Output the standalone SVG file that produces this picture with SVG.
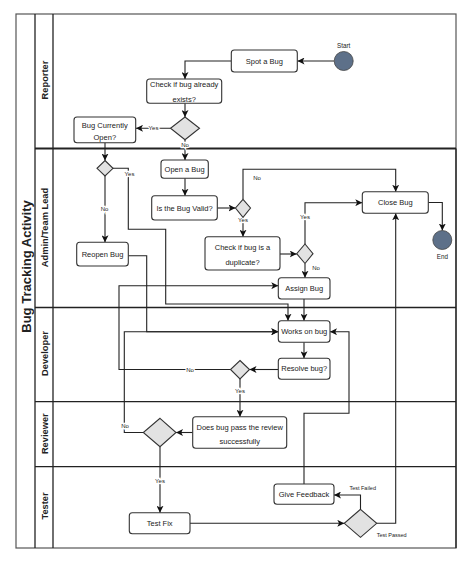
<svg xmlns="http://www.w3.org/2000/svg" width="474" height="567" viewBox="0 0 474 567">
<style>
text{font-family:"Liberation Sans",Arial,sans-serif;fill:#222;}
.n{font-size:7.5px;text-anchor:middle;}
.l{font-size:6px;text-anchor:middle;paint-order:stroke;stroke:#fff;stroke-width:2.5px;}
.s{font-size:5.5px;text-anchor:middle;}
.lane{font-size:9.3px;font-weight:bold;text-anchor:middle;}
.box{fill:#fff;stroke:#333;stroke-width:1.1;}
.dia{fill:#e2e2e2;stroke:#333;stroke-width:1.1;}
.circ{fill:#5d7089;stroke:#444;stroke-width:0.8;}
.c{fill:none;stroke:#222;stroke-width:1.1;}
.a{marker-end:url(#arr);}
.frame{fill:none;stroke:#555;stroke-width:1.2;}
.div{stroke:#222;stroke-width:1.3;}
</style>
<defs>
<marker id="arr" viewBox="0 0 8 8" refX="8" refY="4" markerWidth="7" markerHeight="7" markerUnits="userSpaceOnUse" orient="auto">
<path d="M0,0 L8,4 L0,8 L2,4 z" fill="#111"/>
</marker>
</defs>
<rect width="474" height="567" fill="#fff"/>
<g id="pool">
<rect class="frame" x="16" y="14" width="440" height="534"/>
<line class="div" x1="35" y1="14" x2="35" y2="548"/>
<line class="div" x1="53" y1="14" x2="53" y2="548"/>
<line class="div" x1="35" y1="148.5" x2="456" y2="148.5" style="stroke-width:2"/>
<line class="div" x1="35" y1="307.5" x2="456" y2="307.5"/>
<line class="div" x1="35" y1="401.7" x2="456" y2="401.7"/>
<line class="div" x1="35" y1="466.7" x2="456" y2="466.7"/>
<line class="div" x1="456" y1="148.5" x2="456" y2="548"/>
<text transform="translate(30.5,266.5) rotate(-90)" style="font-size:13px;font-weight:bold;text-anchor:middle">Bug Tracking Activity</text>
<text class="lane" transform="translate(47.5,80) rotate(-90)">Reporter</text>
<text class="lane" transform="translate(47.5,227.5) rotate(-90)">Admin/Team Lead</text>
<text class="lane" transform="translate(47.5,353.5) rotate(-90)">Developer</text>
<text class="lane" transform="translate(47.5,433.7) rotate(-90)">Reviewer</text>
<text class="lane" transform="translate(47.5,506) rotate(-90)">Tester</text>
</g>
<g id="connectors">
<path class="c a" d="M334,61 H297.5"/>
<path class="c a" d="M231,61 H185 V79"/>
<path class="c a" d="M185,103.3 V117"/>
<path class="c a" d="M170.5,128.3 H136"/>
<path class="c a" d="M185,139.7 V160"/>
<path class="c a" d="M105,142.7 V160.5"/>
<path class="c a" d="M113,168.3 H128.3 V229.3 H165.7 V304 H288 V320.7"/>
<path class="c a" d="M105,176 V242.3"/>
<path class="c a" d="M128.3,255.7 H146.7 V331.7 H278.3"/>
<path class="c a" d="M185,178.3 V195.7"/>
<path class="c a" d="M217.3,208 H235.5"/>
<path class="c a" d="M243,199.3 V169.3 H395.7 V191.7"/>
<path class="c a" d="M243,217.3 V236.7"/>
<path class="c a" d="M280,254 H296.7"/>
<path class="c a" d="M305,244 V202.7 H362.3"/>
<path class="c a" d="M305,263.5 V277.7"/>
<path class="c a" d="M304,299 V320.7"/>
<path class="c a" d="M230,369.5 H119 V285.7 H278.3"/>
<path class="c a" d="M304,342.3 V358.3"/>
<path class="c a" d="M278.3,369.5 H249.5"/>
<path class="c a" d="M240,379 V416.7"/>
<path class="c a" d="M192.7,432.5 H176"/>
<path class="c a" d="M143.3,432.5 H124.3 V331.7 H278.3"/>
<path class="c a" d="M160,446.7 V512.7"/>
<path class="c a" d="M190,523.3 H344.3"/>
<path class="c a" d="M360.5,509.3 V495 H334"/>
<path class="c a" d="M376.7,523.3 H395.7 V213.3"/>
<path class="c a" d="M304,484 V413.3 H349 V331.7 H330"/>
<path class="c a" d="M428.3,202.5 H442.3 V230.5"/>
<text class="l" x="153.5" y="130.3">Yes</text>
<text class="l" x="185" y="146.6">No</text>
<text class="l" x="129.5" y="176.1">Yes</text>
<text class="l" x="104.5" y="210.6">No</text>
<text class="l" x="257" y="179.8">No</text>
<text class="l" x="243" y="222.1">Yes</text>
<text class="l" x="305" y="218.8">Yes</text>
<text class="l" x="316" y="270.1">No</text>
<text class="l" x="190" y="372.1">No</text>
<text class="l" x="240" y="392.8">Yes</text>
<text class="l" x="125" y="427.8">No</text>
<text class="l" x="160" y="482.8">Yes</text>
<text class="s" x="362.7" y="490.2">Test Failed</text>
<text class="s" x="391.7" y="537">Test Passed</text>
</g>
<g id="start">
<circle class="circ" cx="343.7" cy="61" r="9.5"/>
<text class="s" x="343.7" y="48.3" style="font-size:6.3px">Start</text>
</g>
<g id="spot-bug">
<rect class="box" x="231.3" y="50" width="66" height="22" rx="3"/>
<text class="n" x="264.3" y="63.6">Spot a Bug</text>
</g>
<g id="check-exists">
<rect class="box" x="146.7" y="79" width="75" height="24.3" rx="3"/>
<text class="n" x="184.2" y="87">Check if bug already</text>
<text class="n" x="184.2" y="101.6">exists?</text>
</g>
<g id="d-exists">
<polygon class="dia" points="185,117 199.5,128.3 185,139.7 170.5,128.3"/>
</g>
<g id="bug-open">
<rect class="box" x="74" y="117" width="61.7" height="25.7" rx="3"/>
<text class="n" x="104.8" y="127.6">Bug Currently</text>
<text class="n" x="104.8" y="140.3">Open?</text>
</g>
<g id="d-open">
<polygon class="dia" points="105,160.5 113,168.3 105,176 97,168.3"/>
</g>
<g id="reopen">
<rect class="box" x="76.7" y="242.3" width="51.6" height="23.7" rx="3"/>
<text class="n" x="102.5" y="256.8">Reopen Bug</text>
</g>
<g id="open-bug">
<rect class="box" x="161" y="160" width="47.3" height="18.3" rx="3"/>
<text class="n" x="184.6" y="171.8">Open a Bug</text>
</g>
<g id="is-valid">
<rect class="box" x="151.7" y="195.7" width="65.6" height="24.3" rx="3"/>
<text class="n" x="184.5" y="210.5">Is the Bug Valid?</text>
</g>
<g id="d-valid">
<polygon class="dia" points="243,199.3 250.5,208 243,217.3 235.5,208"/>
</g>
<g id="check-dup">
<rect class="box" x="205" y="236.7" width="75" height="33.3" rx="3"/>
<text class="n" x="242.5" y="250.3">Check if bug is a</text>
<text class="n" x="242.5" y="264.9">duplicate?</text>
</g>
<g id="d-dup">
<polygon class="dia" points="305,244 313,253.7 305,263.5 296.7,253.7"/>
</g>
<g id="assign">
<rect class="box" x="278.3" y="277.7" width="51.7" height="21.3" rx="3"/>
<text class="n" x="304.2" y="291">Assign Bug</text>
</g>
<g id="close-bug">
<rect class="box" x="362.3" y="191.7" width="66" height="21.6" rx="3"/>
<text class="n" x="395.3" y="205.1">Close Bug</text>
</g>
<g id="end">
<circle class="circ" cx="442.3" cy="240" r="9.5"/>
<text class="s" x="442.3" y="258.8" style="font-size:6.3px">End</text>
</g>
<g id="works">
<rect class="box" x="278.3" y="320.7" width="51.7" height="21.6" rx="3"/>
<text class="n" x="304.2" y="334.1">Works on bug</text>
</g>
<g id="resolve">
<rect class="box" x="278.3" y="358.3" width="51.7" height="21" rx="3"/>
<text class="n" x="304.2" y="371.4">Resolve bug?</text>
</g>
<g id="d-resolve">
<polygon class="dia" points="240,360.5 249.5,369.5 240,379 230.5,369.5"/>
</g>
<g id="review">
<rect class="box" x="192.7" y="416.7" width="94" height="31.6" rx="3"/>
<text class="n" x="239.7" y="429.9">Does bug pass the review</text>
<text class="n" x="239.7" y="443.6">successfully</text>
</g>
<g id="d-review">
<polygon class="dia" points="160,418.3 176,432.5 160,446.7 143.3,432.5"/>
</g>
<g id="test-fix">
<rect class="box" x="129.3" y="512.7" width="60.7" height="21" rx="3"/>
<text class="n" x="159.7" y="525.8">Test Fix</text>
</g>
<g id="feedback">
<rect class="box" x="274" y="484" width="60" height="20.3" rx="3"/>
<text class="n" x="304" y="496.8">Give Feedback</text>
</g>
<g id="d-test">
<polygon class="dia" points="360.5,509.3 376.7,523.3 360.5,537.3 344.3,523.3"/>
</g>
</svg>
